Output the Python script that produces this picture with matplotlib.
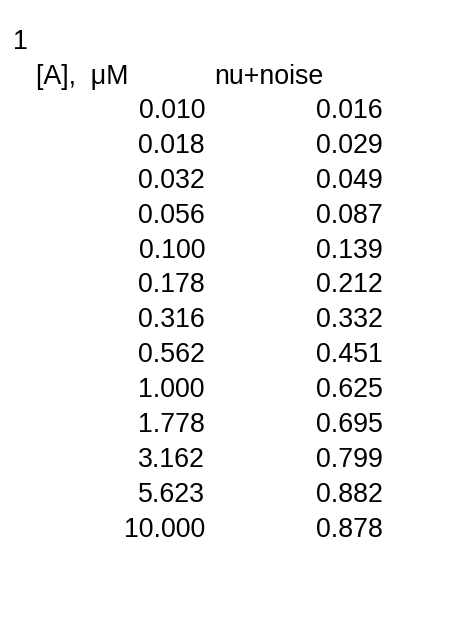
import matplotlib
matplotlib.use("Agg")
import matplotlib.pyplot as plt

conc = [0.010, 0.018, 0.032, 0.056, 0.100, 0.178, 0.316, 0.562, 1.000, 1.778, 3.162, 5.623, 10.000]
nu_noise = [0.016, 0.029, 0.049, 0.087, 0.139, 0.212, 0.332, 0.451, 0.625, 0.695, 0.799, 0.882, 0.878]
headers = ["[A],  \u03bcM", "nu+noise"]

W, H = 463, 623
fig = plt.figure(figsize=(W/100, H/100), dpi=100)
plt.rcParams['font.family'] = ['Liberation Sans', 'DejaVu Sans']
fs = 19.3

def t(x, y, s, ha="left"):
    fig.text(x/W, 1 - y/H, s, ha=ha, va="center", fontsize=fs)

t(13, 42, "1")
t(36, 77, headers[0])
t(214, 77, headers[1])
y0, dy = 111, 34.9
for i, (a, b) in enumerate(zip(conc, nu_noise)):
    y = y0 + i*dy
    t(205, y, f"{a:.3f}", ha="right")
    t(383, y, f"{b:.3f}", ha="right")

fig.savefig("out.png", dpi=100)
